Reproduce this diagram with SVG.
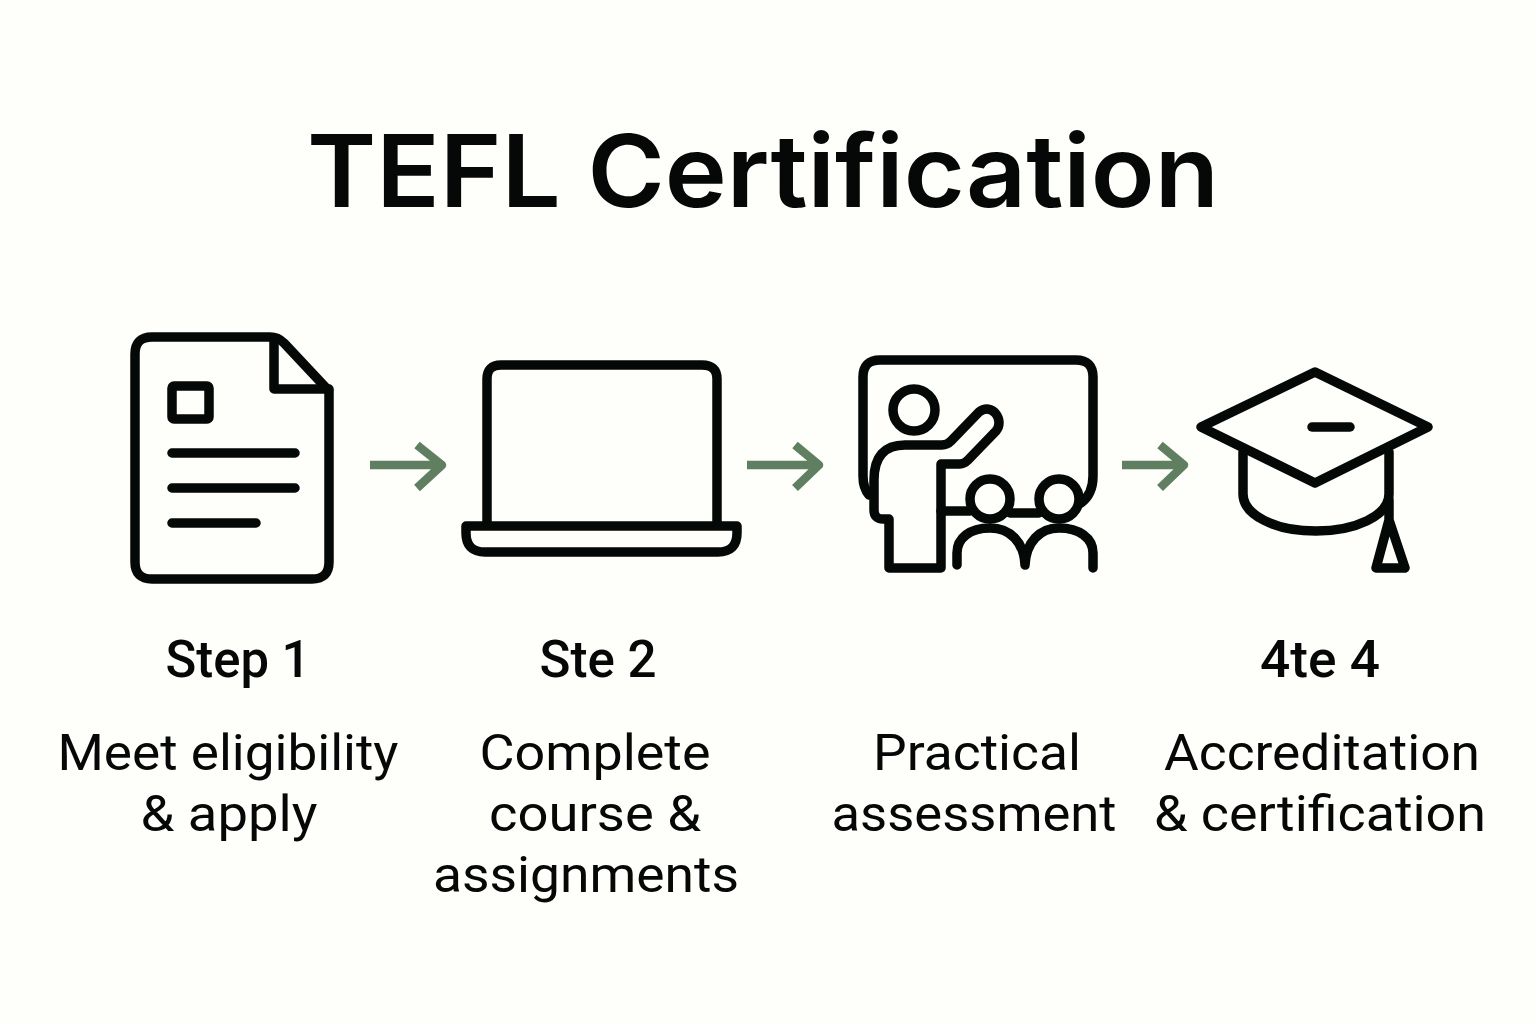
<svg xmlns="http://www.w3.org/2000/svg" width="1536" height="1024" viewBox="0 0 1536 1024">
<style>
.i{fill:none;stroke:#040806;stroke-width:9.5;stroke-linecap:round;stroke-linejoin:round}
.a{fill:none;stroke:#5f7f60;stroke-width:8.5;stroke-linejoin:round}
text{font-family:"Inter","Roboto","Liberation Sans",sans-serif;fill:#050806;text-anchor:middle}
.h{font-size:52px;font-weight:500;font-family:"Roboto","Inter",sans-serif}
.b{font-size:50px;font-weight:400;font-family:"Roboto","Inter",sans-serif}
.t{font-size:100px;font-weight:600}
</style>
<rect width="1536" height="1024" fill="#fefefb"/>
<text class="t" x="763" y="207" textLength="912" lengthAdjust="spacingAndGlyphs">TEFL Certification</text>
<g id="connectors">
<path class="a" d="M370 465H442M417 445L442 465L417 488"/>
<path class="a" d="M747 465H819M795 445L819 465L795 488"/>
<path class="a" d="M1122 465H1184M1160 445L1184 465L1160 488"/>
</g>
<g id="step1">
<path class="i" d="M152 337H270Q278 337 284 343L329 391V562Q329 579 312 579H152Q135 579 135 562V354Q135 337 152 337Z"/>
<path class="i" d="M274 340V389H329"/>
<rect class="i" x="172" y="386" width="37" height="33" rx="2"/>
<path class="i" d="M172 453H295M172 488H295M172 523H256"/>
<text class="h" x="238" y="677" textLength="145" lengthAdjust="spacingAndGlyphs">Step 1</text>
<text class="b" x="228" y="770" textLength="341" lengthAdjust="spacingAndGlyphs">Meet eligibility</text>
<text class="b" x="229" y="831" textLength="177" lengthAdjust="spacingAndGlyphs">&amp; apply</text>
</g>
<g id="step2">
<path class="i" d="M487 524V379Q487 365 501 365H702Q717 365 717 379V524"/>
<path class="i" d="M466 526H737V533Q737 552 718 552H485Q466 552 466 533Z"/>
<text class="h" x="598" y="677" textLength="117" lengthAdjust="spacingAndGlyphs">Ste 2</text>
<text class="b" x="595" y="770" textLength="231" lengthAdjust="spacingAndGlyphs">Complete</text>
<text class="b" x="595" y="831" textLength="212" lengthAdjust="spacingAndGlyphs">course &amp;</text>
<text class="b" x="586" y="892" textLength="306" lengthAdjust="spacingAndGlyphs">assignments</text>
</g>
<g id="step3">
<path class="i" d="M869 495Q863 488 863 476V377Q863 360 880 360H1076Q1093 360 1093 377V476Q1093 494 1081 503"/>
<circle class="i" cx="914" cy="410" r="21"/>
<path class="i" d="M889 568H941V464H960Q964 464 968 460L996 431C1005 420 992 402 979 412L951 441Q947 445 942 445H905Q874 445 874 480V510Q874 519 883 519H889Z"/>
<path class="i" d="M941 511H970M1010 513H1039"/>
<circle class="i" cx="990" cy="499" r="20"/>
<circle class="i" cx="1059" cy="499" r="20"/>
<path class="i" d="M957 565V553C957 538 970 528 990 528C1010 528 1024 542 1025 565C1026 542 1040 528 1059 528C1079 528 1093 538 1093 553V568"/>
<text class="b" x="977" y="770" textLength="208" lengthAdjust="spacingAndGlyphs">Practical</text>
<text class="b" x="974" y="831" textLength="285" lengthAdjust="spacingAndGlyphs">assessment</text>
</g>
<g id="step4">
<path class="i" d="M1315 372L1428 427L1315 483L1201 427Z"/>
<path class="i" d="M1312 427H1350"/>
<path class="i" d="M1243 452V494C1243 515 1275 531 1316 531C1355 531 1389 516 1389 494V452"/>
<path class="i" d="M1389 500V520L1405 568H1376L1389 520"/>
<text class="h" x="1320" y="677" textLength="120" lengthAdjust="spacingAndGlyphs">4te 4</text>
<text class="b" x="1322" y="770" textLength="316" lengthAdjust="spacingAndGlyphs">Accreditation</text>
<text class="b" x="1320" y="831" textLength="332" lengthAdjust="spacingAndGlyphs">&amp; certification</text>
</g>
</svg>
